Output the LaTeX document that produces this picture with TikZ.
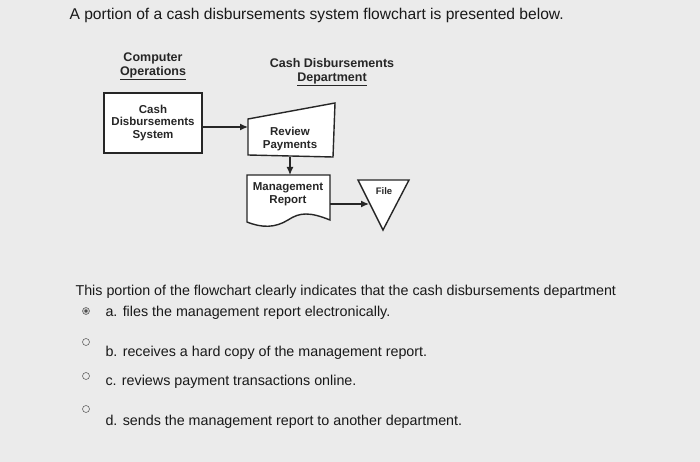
\documentclass[tikz,border=0pt]{standalone}
\usepackage{fontspec}
\usetikzlibrary{arrows.meta}
\setmainfont{Liberation Sans}
\begin{document}
\begin{tikzpicture}[x=1pt,y=-1pt,
  shp/.style={draw=black!85,line width=1.4pt,fill=white},
  lab/.style={font=\bfseries\fontsize{11.5}{12.5}\selectfont,align=center,text=black!85},
  body/.style={anchor=west,font=\fontsize{14.3}{16}\selectfont,text=black!90},
  arr/.style={-{Latex[length=8pt,width=7pt]},line width=1.3pt,black!85},
  radio/.style={circle,draw=black!60,line width=0.6pt,minimum size=7pt,inner sep=0pt}]
\fill[black!8] (0,0) rectangle (700,462);
\useasboundingbox (0,0) rectangle (700,462);
\node[body,font=\fontsize{15.6}{17}\selectfont] (t) at (66,15) {A portion of a cash disbursements system flowchart is presented below.};
\node[lab,font=\bfseries\fontsize{12.5}{14}\selectfont] (h1) at (153,66) {Computer\\\underline{Operations}};
\node[lab,font=\bfseries\fontsize{12.5}{14}\selectfont] (h2) at (332,72) {Cash Disbursements\\\underline{Department}};
\node[shp,lab,minimum width=98pt,minimum height=60pt] (cds) at (153,123) {Cash\\Disbursements\\System};
\draw[shp] (248,119) -- (335,103) -- (333,157) -- (248,155) -- cycle;
\node[lab] (rp) at (290,139) {Review\\Payments};
\coordinate (rpl) at (248,127);
\coordinate (rpb) at (290,157);
\draw[shp] (247,175) -- (330,175) -- (330,220) .. controls (310,212) and (300,212) .. (288,220) .. controls (275,228) and (262,228) .. (247,222) -- cycle;
\node[lab] (mr) at (288,194) {Management\\Report};
\coordinate (mrt) at (290,175);
\coordinate (mrr) at (330,204);
\draw[shp] (358,180) -- (409,180) -- (383,230) -- cycle;
\node[lab,font=\bfseries\fontsize{9.5}{11}\selectfont] (fl) at (384,191) {File};
\coordinate (flt) at (369,204);
\draw[arr] (cds.east|-rpl) -- (rpl);
\draw[arr] (rpb) -- (mrt);
\draw[arr] (mrr) -- (flt);
\node[body] (q) at (72,292) {This portion of the flowchart clearly indicates that the cash disbursements department};
\node[radio,fill=black!20] (r1) at (86,311) {};
\fill[black!70] (r1) circle (1.8pt);
\node[body] (a) at (102,313) {a. files the management report electronically.};
\node[radio] (r2) at (86,342) {};
\node[body] (b) at (102,353) {b. receives a hard copy of the management report.};
\node[radio] (r3) at (86,376) {};
\node[body] (c) at (102,382) {c. reviews payment transactions online.};
\node[radio] (r4) at (86,409) {};
\node[body] (d) at (102,422) {d. sends the management report to another department.};
\end{tikzpicture}
\end{document}
